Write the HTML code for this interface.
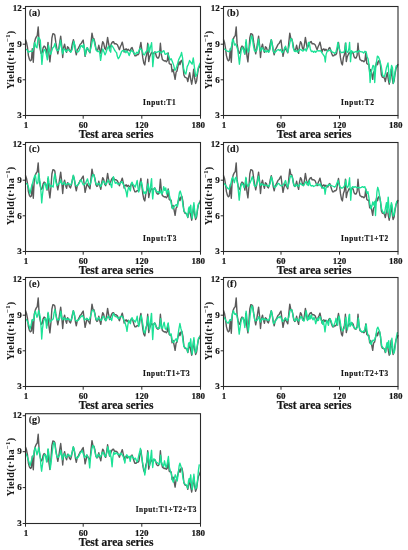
<!DOCTYPE html><html><head><meta charset="utf-8"><style>html,body{margin:0;padding:0;background:#fff;}svg{display:block;}text{font-family:'Liberation Serif', serif;font-weight:bold;fill:#161616;stroke:#161616;stroke-width:0.2px;}</style></head><body>
<svg width="408" height="550" viewBox="0 0 408 550">
<defs><filter id="bl" x="-5%" y="-5%" width="110%" height="110%"><feGaussianBlur stdDeviation="0.4"/></filter></defs>
<rect width="408" height="550" fill="#fff"/>
<g><polyline points="25.5,39.4 26.5,42.4 27.5,47.5 28.4,55.6 29.4,59.3 30.4,60.8 31.4,60.0 32.3,48.6 33.3,62.2 34.3,43.1 35.3,39.1 36.3,36.9 37.2,35.8 38.2,26.9 39.2,43.9 40.2,49.7 41.1,53.4 42.1,52.7 43.1,47.9 44.1,46.1 45.1,46.8 46.0,49.4 47.0,54.1 48.0,42.4 49.0,55.6 49.9,61.9 50.9,51.9 51.9,38.0 52.9,33.6 53.9,33.9 54.8,35.0 55.8,42.4 56.8,48.3 57.8,53.8 58.7,49.0 59.7,42.4 60.7,36.1 61.7,45.3 62.7,57.5 63.6,47.5 64.6,44.2 65.6,49.4 66.6,52.3 67.5,46.8 68.5,47.5 69.5,50.8 70.5,51.9 71.4,49.0 72.4,43.5 73.4,39.6 74.4,43.9 75.4,50.5 76.3,54.9 77.3,49.7 78.3,48.3 79.3,46.4 80.2,44.2 81.2,43.5 82.2,41.6 83.2,40.0 84.2,48.3 85.1,56.4 86.1,51.9 87.1,47.7 88.1,49.7 89.0,51.2 90.0,52.8 91.0,42.4 92.0,33.2 93.0,38.3 93.9,38.7 94.9,42.4 95.9,48.6 96.9,50.5 97.8,49.7 98.8,45.3 99.8,49.7 100.8,53.3 101.8,46.1 102.7,41.6 103.7,43.3 104.7,48.3 105.7,49.7 106.6,44.6 107.6,37.4 108.6,43.5 109.6,48.6 110.6,46.1 111.5,43.5 112.5,42.0 113.5,41.6 114.5,43.9 115.4,43.6 116.4,44.0 117.4,44.7 118.4,47.3 119.4,49.7 120.3,46.8 121.3,44.7 122.3,42.1 123.3,46.8 124.2,52.1 125.2,49.3 126.2,48.8 127.2,50.6 128.2,49.3 129.1,50.2 130.1,51.0 131.1,48.4 132.1,47.6 133.0,50.2 134.0,53.5 135.0,55.9 136.0,55.7 137.0,54.6 137.9,54.9 138.9,53.5 139.9,47.3 140.9,42.5 141.8,49.5 142.8,57.9 143.8,63.1 144.8,64.9 145.8,57.6 146.7,54.7 147.7,43.3 148.7,61.5 149.7,56.7 150.6,54.5 151.6,52.4 152.6,54.0 153.6,53.5 154.6,52.0 155.5,53.2 156.5,56.8 157.5,58.0 158.5,58.0 159.4,55.5 160.4,43.3 161.4,54.6 162.4,59.6 163.3,60.2 164.3,61.0 165.3,60.6 166.3,61.7 167.3,60.6 168.2,52.9 169.2,63.5 170.2,64.3 171.2,64.3 172.1,71.8 173.1,69.5 174.1,74.0 175.1,79.4 176.1,72.1 177.0,71.0 178.0,66.2 179.0,61.8 180.0,64.7 180.9,61.0 181.9,60.3 182.9,65.4 183.9,75.0 184.9,77.2 185.8,77.6 186.8,77.9 187.8,81.6 188.8,76.5 189.7,72.8 190.7,79.4 191.7,84.2 192.7,77.9 193.7,69.1 194.6,77.9 195.6,83.5 196.6,80.9 197.6,73.5 198.5,68.4 199.5,66.9 200.5,64.0" fill="none" stroke="#5a5a5a" stroke-width="1.40" stroke-opacity="1.00" stroke-linejoin="round" filter="url(#bl)"/><polyline points="25.9,48.9 27.2,50.0 28.3,52.2 29.4,51.6 30.5,51.1 31.6,51.6 32.6,51.1 33.7,47.8 34.8,42.4 35.9,46.7 37.0,47.8 38.1,37.5 39.2,38.0 40.3,40.2 41.4,56.5 41.9,64.4 43.0,53.3 44.1,49.5 45.2,50.0 46.3,54.4 47.4,59.8 48.5,45.1 49.6,51.1 50.7,54.4 51.7,51.1 52.8,47.8 53.9,46.7 55.0,43.5 56.1,48.9 57.2,50.5 58.3,50.5 59.4,47.8 60.5,40.2 61.6,47.8 62.7,53.8 63.8,48.9 64.9,49.5 65.9,51.6 67.0,50.5 68.1,49.5 69.4,50.5 70.8,52.2 72.2,49.5 73.8,41.3 74.9,45.6 76.0,50.5 77.0,52.2 78.5,51.6 79.6,49.5 80.6,46.2 81.7,45.6 82.8,47.3 83.6,44.5 84.5,48.9 85.3,55.5 86.4,48.9 87.5,47.8 88.6,50.5 89.9,52.2 91.2,46.7 92.7,39.1 93.7,39.6 94.8,44.5 96.3,50.5 97.6,51.6 98.9,51.1 99.8,53.3 100.6,60.4 101.7,53.3 102.8,48.9 104.1,52.2 105.0,54.9 106.1,52.2 107.2,48.9 108.5,46.2 109.6,50.5 110.7,52.2 111.2,45.1 112.3,46.2 113.4,47.8 114.5,50.0 115.6,51.6 116.6,52.7 117.2,56.0 118.3,58.7 119.4,57.1 120.5,54.4 121.6,51.6 122.6,50.5 123.7,51.1 124.8,50.5 125.9,52.7 127.0,51.1 128.1,52.7 129.2,55.5 130.3,52.2 131.4,50.0 132.5,51.6 133.6,52.2 134.7,54.4 135.7,53.8 136.8,52.2 137.9,53.3 139.0,50.5 140.1,48.4 141.2,49.5 142.3,51.1 143.4,54.4 144.5,54.9 145.6,52.2 146.7,51.6 147.8,49.5 148.5,44.5 149.4,52.2 150.5,46.7 151.4,44.0 151.6,42.7 152.1,51.1 152.8,66.6 154.1,53.1 155.3,51.9 156.5,52.5 157.7,51.9 159.0,51.3 160.2,51.9 161.4,53.1 162.6,51.3 163.9,50.7 165.1,54.4 166.3,53.8 167.5,53.1 168.8,56.2 170.0,59.9 171.2,58.7 172.4,61.7 173.7,65.4 174.9,70.3 176.1,68.5 177.3,64.8 178.6,59.9 179.8,57.4 180.7,55.6 181.6,52.5 182.6,58.0 183.5,67.8 184.7,72.7 185.9,74.0 187.2,66.6 188.4,64.2 189.6,60.5 190.8,62.3 192.1,64.2 193.3,58.0 194.5,67.8 195.7,76.4 197.0,74.0 198.2,67.8 199.4,64.8 200.3,62.9" fill="none" stroke="#1ae296" stroke-width="1.35" stroke-opacity="1.00" stroke-linejoin="round" filter="url(#bl)"/><rect x="25.5" y="6.5" width="175.0" height="109.0" fill="none" stroke="#2a2a2a" stroke-width="1.1"/><line x1="22.7" y1="115.5" x2="25.5" y2="115.5" stroke="#2a2a2a" stroke-width="1"/><text x="21.8" y="118.2" font-size="9" text-anchor="end">3</text><line x1="22.7" y1="79.8" x2="25.5" y2="79.8" stroke="#2a2a2a" stroke-width="1"/><text x="21.8" y="82.5" font-size="9" text-anchor="end">6</text><line x1="22.7" y1="44.2" x2="25.5" y2="44.2" stroke="#2a2a2a" stroke-width="1"/><text x="21.8" y="46.9" font-size="9" text-anchor="end">9</text><line x1="22.7" y1="8.5" x2="25.5" y2="8.5" stroke="#2a2a2a" stroke-width="1"/><text x="21.8" y="11.2" font-size="9" text-anchor="end">12</text><line x1="25.5" y1="115.5" x2="25.5" y2="118.7" stroke="#2a2a2a" stroke-width="1"/><text x="26.1" y="127.5" font-size="9" text-anchor="middle">1</text><line x1="83.2" y1="115.5" x2="83.2" y2="118.7" stroke="#2a2a2a" stroke-width="1"/><text x="83.3" y="127.5" font-size="9" text-anchor="middle">60</text><line x1="141.8" y1="115.5" x2="141.8" y2="118.7" stroke="#2a2a2a" stroke-width="1"/><text x="141.7" y="127.5" font-size="9" text-anchor="middle">120</text><line x1="200.5" y1="115.5" x2="200.5" y2="118.7" stroke="#2a2a2a" stroke-width="1"/><text x="198.3" y="127.5" font-size="9" text-anchor="middle">180</text><text x="116.0" y="137.5" font-size="11.5" text-anchor="middle">Test area series</text><text transform="translate(14.0,60.0) rotate(-90)" font-size="10.2" text-anchor="middle" textLength="58.5" style="stroke-width:0">Yield(t·ha<tspan font-size="6.5" dy="-4.2">−1</tspan><tspan dy="4.2">)</tspan></text><text x="29.0" y="15.5" font-size="10" letter-spacing="0.5"><tspan font-size="7.8" dy="-0.4">(</tspan><tspan dy="0.4">a</tspan><tspan font-size="7.8" dy="-0.4">)</tspan></text><text x="143.1" y="105.1" font-size="7.3" textLength="32.6">Input:T1</text></g>
<g><polyline points="223.5,39.4 224.5,42.4 225.4,47.5 226.4,55.6 227.4,59.3 228.4,60.8 229.3,60.0 230.3,48.6 231.3,62.2 232.3,43.1 233.2,39.1 234.2,36.9 235.2,35.8 236.2,26.9 237.1,43.9 238.1,49.7 239.1,53.4 240.1,52.7 241.0,47.9 242.0,46.1 243.0,46.8 244.0,49.4 244.9,54.1 245.9,42.4 246.9,55.6 247.9,61.9 248.8,51.9 249.8,38.0 250.8,33.6 251.8,33.9 252.7,35.0 253.7,42.4 254.7,48.3 255.7,53.8 256.6,49.0 257.6,42.4 258.6,36.1 259.6,45.3 260.5,57.5 261.5,47.5 262.5,44.2 263.5,49.4 264.4,52.3 265.4,46.8 266.4,47.5 267.4,50.8 268.3,51.9 269.3,49.0 270.3,43.5 271.3,39.6 272.2,43.9 273.2,50.5 274.2,54.9 275.2,49.7 276.1,48.3 277.1,46.4 278.1,44.2 279.1,43.5 280.0,41.6 281.0,40.0 282.0,48.3 283.0,56.4 283.9,51.9 284.9,47.7 285.9,49.7 286.9,51.2 287.8,52.8 288.8,42.4 289.8,33.2 290.8,38.3 291.7,38.7 292.7,42.4 293.7,48.6 294.7,50.5 295.6,49.7 296.6,45.3 297.6,49.7 298.6,53.3 299.5,46.1 300.5,41.6 301.5,43.3 302.5,48.3 303.4,49.7 304.4,44.6 305.4,37.4 306.4,43.5 307.3,48.6 308.3,46.1 309.3,43.5 310.3,42.0 311.2,41.6 312.2,43.9 313.2,43.6 314.2,44.0 315.1,44.7 316.1,47.3 317.1,49.7 318.1,46.8 319.0,44.7 320.0,42.1 321.0,46.8 322.0,52.1 322.9,49.3 323.9,48.8 324.9,50.6 325.9,49.3 326.8,50.2 327.8,51.0 328.8,48.4 329.8,47.6 330.7,50.2 331.7,53.5 332.7,55.9 333.7,55.7 334.6,54.6 335.6,54.9 336.6,53.5 337.6,47.3 338.5,42.5 339.5,49.5 340.5,57.9 341.5,63.1 342.4,64.9 343.4,57.6 344.4,54.7 345.4,43.3 346.3,61.5 347.3,56.7 348.3,54.5 349.3,52.4 350.2,54.0 351.2,53.5 352.2,52.0 353.2,53.2 354.1,56.8 355.1,58.0 356.1,58.0 357.1,55.5 358.0,43.3 359.0,54.6 360.0,59.6 361.0,60.2 361.9,61.0 362.9,60.6 363.9,61.7 364.9,60.6 365.8,52.9 366.8,63.5 367.8,64.3 368.8,64.3 369.7,71.8 370.7,69.5 371.7,74.0 372.7,79.4 373.6,72.1 374.6,71.0 375.6,66.2 376.6,61.8 377.5,64.7 378.5,61.0 379.5,60.3 380.5,65.4 381.4,75.0 382.4,77.2 383.4,77.6 384.4,77.9 385.3,81.6 386.3,76.5 387.3,72.8 388.3,79.4 389.2,84.2 390.2,77.9 391.2,69.1 392.2,77.9 393.1,83.5 394.1,80.9 395.1,73.5 396.1,68.4 397.0,66.9 398.0,64.0" fill="none" stroke="#5a5a5a" stroke-width="1.40" stroke-opacity="1.00" stroke-linejoin="round" filter="url(#bl)"/><polyline points="223.9,48.9 225.2,49.5 226.3,50.5 227.4,51.1 228.5,51.6 229.6,51.1 230.6,49.5 231.7,45.6 232.6,39.1 233.4,40.2 234.5,45.1 235.6,44.0 236.6,46.2 237.7,49.5 238.8,58.7 239.4,64.2 240.3,56.5 241.3,50.0 242.4,47.3 243.5,50.0 244.6,53.8 245.4,47.8 246.1,39.6 247.0,47.8 248.1,52.2 249.2,49.5 250.3,42.9 251.4,35.8 252.3,37.5 253.4,45.6 254.4,50.5 255.5,51.6 256.6,50.5 257.7,45.6 258.5,39.1 259.6,47.8 260.7,51.1 261.8,47.8 262.9,48.4 263.9,51.1 265.0,50.5 266.1,52.2 267.4,50.5 268.8,52.2 270.2,48.9 271.3,39.6 272.4,45.1 273.5,51.6 274.6,52.7 275.9,51.6 277.2,50.0 278.3,49.5 279.4,50.5 280.5,49.5 281.6,51.6 282.5,52.7 283.6,51.1 284.7,47.8 285.5,46.2 286.6,49.5 287.7,52.2 288.8,47.8 289.9,42.4 291.0,38.5 292.1,40.2 293.2,47.8 294.3,51.1 295.4,51.6 296.4,50.5 297.5,52.2 298.6,50.5 299.7,49.5 300.8,49.5 301.9,50.5 303.0,51.1 304.1,50.0 305.2,48.9 306.3,51.1 307.4,47.8 308.1,44.0 308.5,42.4 309.2,42.4 310.3,48.9 311.4,51.6 312.5,51.1 313.6,52.2 314.6,51.1 315.7,52.2 316.8,51.1 317.9,50.5 319.0,51.1 320.1,50.5 321.2,51.6 322.3,53.3 323.4,54.9 324.5,56.5 325.3,62.0 326.1,54.4 327.2,51.1 328.3,50.5 329.4,50.5 330.5,50.0 331.6,51.6 332.7,52.2 333.7,52.7 334.8,53.3 335.9,52.2 337.0,47.8 337.9,42.4 338.9,47.8 339.8,50.5 340.8,52.2 341.9,52.7 343.0,52.2 344.1,52.2 345.2,47.8 345.9,42.9 346.5,51.1 347.4,52.2 348.3,51.1 349.0,47.8 349.6,42.4 349.6,43.3 350.2,53.3 350.5,61.7 351.5,50.7 352.7,51.9 353.9,52.5 355.1,51.9 356.4,51.3 357.6,52.5 358.8,50.7 360.0,51.3 361.3,51.9 362.5,51.9 363.7,53.1 364.9,51.3 366.2,51.9 367.1,56.8 368.0,58.7 368.9,64.2 369.6,72.7 370.1,82.5 371.1,72.7 372.0,69.1 373.0,65.4 374.0,66.0 374.7,82.5 375.7,67.8 376.7,60.5 377.4,56.2 378.4,56.8 379.4,59.3 380.6,63.6 381.6,68.5 382.6,75.2 383.6,76.4 384.5,76.4 385.5,72.7 386.4,67.8 387.2,65.4 388.0,62.9 388.8,72.7 389.7,82.5 390.7,72.7 391.6,65.4 392.5,67.8 393.4,83.2 394.3,77.6 395.3,70.3 396.2,66.0 397.0,65.4" fill="none" stroke="#1ae296" stroke-width="1.35" stroke-opacity="1.00" stroke-linejoin="round" filter="url(#bl)"/><rect x="223.5" y="6.5" width="174.5" height="109.0" fill="none" stroke="#2a2a2a" stroke-width="1.1"/><line x1="220.7" y1="115.5" x2="223.5" y2="115.5" stroke="#2a2a2a" stroke-width="1"/><text x="219.8" y="118.2" font-size="9" text-anchor="end">3</text><line x1="220.7" y1="79.8" x2="223.5" y2="79.8" stroke="#2a2a2a" stroke-width="1"/><text x="219.8" y="82.5" font-size="9" text-anchor="end">6</text><line x1="220.7" y1="44.2" x2="223.5" y2="44.2" stroke="#2a2a2a" stroke-width="1"/><text x="219.8" y="46.9" font-size="9" text-anchor="end">9</text><line x1="220.7" y1="8.5" x2="223.5" y2="8.5" stroke="#2a2a2a" stroke-width="1"/><text x="219.8" y="11.2" font-size="9" text-anchor="end">12</text><line x1="223.5" y1="115.5" x2="223.5" y2="118.7" stroke="#2a2a2a" stroke-width="1"/><text x="224.1" y="127.5" font-size="9" text-anchor="middle">1</text><line x1="281.0" y1="115.5" x2="281.0" y2="118.7" stroke="#2a2a2a" stroke-width="1"/><text x="281.1" y="127.5" font-size="9" text-anchor="middle">60</text><line x1="339.5" y1="115.5" x2="339.5" y2="118.7" stroke="#2a2a2a" stroke-width="1"/><text x="339.4" y="127.5" font-size="9" text-anchor="middle">120</text><line x1="398.0" y1="115.5" x2="398.0" y2="118.7" stroke="#2a2a2a" stroke-width="1"/><text x="395.8" y="127.5" font-size="9" text-anchor="middle">180</text><text x="314.0" y="137.5" font-size="11.5" text-anchor="middle">Test area series</text><text transform="translate(212.0,60.0) rotate(-90)" font-size="10.2" text-anchor="middle" textLength="58.5" style="stroke-width:0">Yield(t·ha<tspan font-size="6.5" dy="-4.2">−1</tspan><tspan dy="4.2">)</tspan></text><text x="227.0" y="15.5" font-size="10" letter-spacing="0.5"><tspan font-size="7.8" dy="-0.4">(</tspan><tspan dy="0.4">b</tspan><tspan font-size="7.8" dy="-0.4">)</tspan></text><text x="341.1" y="105.1" font-size="7.3" textLength="32.7">Input:T2</text></g>
<g><polyline points="25.5,175.4 26.5,178.4 27.5,183.5 28.4,191.6 29.4,195.3 30.4,196.8 31.4,196.0 32.3,184.6 33.3,198.2 34.3,179.1 35.3,175.1 36.3,172.9 37.2,171.8 38.2,162.9 39.2,179.9 40.2,185.7 41.1,189.4 42.1,188.7 43.1,183.9 44.1,182.1 45.1,182.8 46.0,185.4 47.0,190.1 48.0,178.4 49.0,191.6 49.9,197.9 50.9,187.9 51.9,174.0 52.9,169.6 53.9,169.9 54.8,171.0 55.8,178.4 56.8,184.3 57.8,189.8 58.7,185.0 59.7,178.4 60.7,172.1 61.7,181.3 62.7,193.5 63.6,183.5 64.6,180.2 65.6,185.4 66.6,188.3 67.5,182.8 68.5,183.5 69.5,186.8 70.5,187.9 71.4,185.0 72.4,179.5 73.4,175.6 74.4,179.9 75.4,186.5 76.3,190.9 77.3,185.7 78.3,184.3 79.3,182.4 80.2,180.2 81.2,179.5 82.2,177.6 83.2,176.0 84.2,184.3 85.1,192.4 86.1,187.9 87.1,183.7 88.1,185.7 89.0,187.2 90.0,188.8 91.0,178.4 92.0,169.2 93.0,174.3 93.9,174.7 94.9,178.4 95.9,184.6 96.9,186.5 97.8,185.7 98.8,181.3 99.8,185.7 100.8,189.3 101.8,182.1 102.7,177.6 103.7,179.3 104.7,184.3 105.7,185.7 106.6,180.6 107.6,173.4 108.6,179.5 109.6,184.6 110.6,182.1 111.5,179.5 112.5,178.0 113.5,177.6 114.5,179.9 115.4,179.6 116.4,180.0 117.4,180.7 118.4,183.3 119.4,185.7 120.3,182.8 121.3,180.7 122.3,178.1 123.3,182.8 124.2,188.1 125.2,185.3 126.2,184.8 127.2,186.6 128.2,185.3 129.1,186.2 130.1,187.0 131.1,184.4 132.1,183.6 133.0,186.2 134.0,189.5 135.0,191.9 136.0,191.7 137.0,190.6 137.9,190.9 138.9,189.5 139.9,183.3 140.9,178.5 141.8,185.5 142.8,193.9 143.8,199.1 144.8,200.9 145.8,193.6 146.7,190.7 147.7,179.3 148.7,197.5 149.7,192.7 150.6,190.5 151.6,188.4 152.6,190.0 153.6,189.5 154.6,188.0 155.5,189.2 156.5,192.8 157.5,194.0 158.5,194.0 159.4,191.5 160.4,179.3 161.4,190.6 162.4,195.6 163.3,196.2 164.3,197.0 165.3,196.6 166.3,197.7 167.3,196.6 168.2,188.9 169.2,199.5 170.2,200.3 171.2,200.3 172.1,207.8 173.1,205.5 174.1,210.0 175.1,215.4 176.1,208.1 177.0,207.0 178.0,202.2 179.0,197.8 180.0,200.7 180.9,197.0 181.9,196.3 182.9,201.4 183.9,211.0 184.9,213.2 185.8,213.6 186.8,213.9 187.8,217.6 188.8,212.5 189.7,208.8 190.7,215.4 191.7,220.2 192.7,213.9 193.7,205.1 194.6,213.9 195.6,219.5 196.6,216.9 197.6,209.5 198.5,204.4 199.5,202.9 200.5,200.0" fill="none" stroke="#5a5a5a" stroke-width="1.40" stroke-opacity="1.00" stroke-linejoin="round" filter="url(#bl)"/><polyline points="25.9,183.3 27.0,183.8 28.1,186.0 29.1,189.8 29.9,193.6 30.7,190.4 31.6,186.5 32.4,183.8 33.5,179.5 34.6,176.2 35.4,175.1 36.2,181.1 37.0,183.8 37.9,182.7 38.6,173.5 39.5,178.4 40.3,183.8 41.2,194.7 41.7,202.9 42.5,194.7 43.6,186.0 44.7,183.3 45.7,183.8 46.6,189.3 47.3,188.2 48.1,176.7 49.0,182.7 50.1,187.1 51.2,185.5 52.3,186.0 53.2,187.1 54.0,178.4 54.9,174.0 55.8,181.6 56.9,185.5 58.0,184.4 58.8,183.8 59.9,182.7 60.8,180.0 61.7,183.8 62.6,184.4 63.4,183.3 64.3,182.2 65.4,184.9 66.5,184.4 67.6,183.8 68.5,183.3 69.4,184.4 70.8,184.9 72.2,181.6 73.3,175.1 74.4,179.5 75.5,184.9 76.6,186.0 77.9,184.9 79.0,183.3 80.1,181.1 81.2,180.0 82.3,182.7 83.4,184.9 84.5,184.4 85.6,183.3 86.7,180.5 87.5,178.9 88.4,182.7 89.5,185.5 90.8,182.7 91.9,177.3 93.0,174.5 94.1,175.6 95.2,181.1 96.3,184.4 97.4,184.9 98.4,183.3 99.5,183.8 100.6,186.5 101.7,184.9 102.8,181.1 103.9,181.6 105.0,183.8 106.1,184.4 107.2,182.2 108.3,180.0 109.4,182.2 110.5,183.8 111.0,185.5 111.7,187.6 112.5,180.5 113.4,176.7 114.2,180.5 115.3,183.3 116.4,182.2 117.5,183.8 118.6,184.4 119.7,183.3 120.8,182.7 121.9,181.6 123.0,183.8 124.1,186.0 125.2,188.7 126.3,192.5 127.0,196.9 127.8,190.4 128.7,187.1 129.5,188.7 130.4,190.9 131.3,183.3 132.1,182.2 133.0,184.4 134.1,185.5 135.2,187.1 136.3,183.8 137.2,180.5 137.9,187.1 138.7,192.0 139.6,189.3 140.4,183.8 141.3,181.6 142.2,185.5 143.1,190.4 143.9,193.6 144.8,192.0 145.7,193.6 146.6,190.4 147.4,187.1 148.1,183.8 148.9,189.3 149.6,192.5 150.5,186.5 151.4,179.5 151.6,178.7 152.1,190.4 152.7,198.9 153.7,189.1 154.7,187.9 155.9,190.4 157.1,192.2 158.4,191.6 159.6,193.4 160.8,190.4 161.8,194.0 162.8,192.2 163.7,186.7 164.7,190.4 165.7,187.9 166.7,194.0 167.7,190.4 168.6,190.4 169.6,196.5 170.6,200.2 171.6,205.1 172.6,208.7 173.5,207.5 174.5,206.3 175.5,205.1 176.5,204.5 177.5,206.3 178.5,198.9 179.4,192.8 180.2,191.0 181.1,194.0 182.1,198.9 183.1,206.3 184.1,211.2 185.1,212.4 186.0,213.0 187.0,214.9 187.8,217.3 188.5,208.7 189.2,206.9 190.0,212.4 190.7,205.1 191.4,213.6 192.2,218.5 193.2,208.7 193.9,202.6 194.6,210.0 195.6,217.9 196.6,214.9 197.6,207.5 198.5,203.8 199.5,202.6" fill="none" stroke="#1ae296" stroke-width="1.35" stroke-opacity="1.00" stroke-linejoin="round" filter="url(#bl)"/><rect x="25.5" y="142.5" width="175.0" height="109.0" fill="none" stroke="#2a2a2a" stroke-width="1.1"/><line x1="22.7" y1="251.5" x2="25.5" y2="251.5" stroke="#2a2a2a" stroke-width="1"/><text x="21.8" y="254.2" font-size="9" text-anchor="end">3</text><line x1="22.7" y1="215.8" x2="25.5" y2="215.8" stroke="#2a2a2a" stroke-width="1"/><text x="21.8" y="218.5" font-size="9" text-anchor="end">6</text><line x1="22.7" y1="180.2" x2="25.5" y2="180.2" stroke="#2a2a2a" stroke-width="1"/><text x="21.8" y="182.9" font-size="9" text-anchor="end">9</text><line x1="22.7" y1="144.5" x2="25.5" y2="144.5" stroke="#2a2a2a" stroke-width="1"/><text x="21.8" y="147.2" font-size="9" text-anchor="end">12</text><line x1="25.5" y1="251.5" x2="25.5" y2="254.7" stroke="#2a2a2a" stroke-width="1"/><text x="26.1" y="263.5" font-size="9" text-anchor="middle">1</text><line x1="83.2" y1="251.5" x2="83.2" y2="254.7" stroke="#2a2a2a" stroke-width="1"/><text x="83.3" y="263.5" font-size="9" text-anchor="middle">60</text><line x1="141.8" y1="251.5" x2="141.8" y2="254.7" stroke="#2a2a2a" stroke-width="1"/><text x="141.7" y="263.5" font-size="9" text-anchor="middle">120</text><line x1="200.5" y1="251.5" x2="200.5" y2="254.7" stroke="#2a2a2a" stroke-width="1"/><text x="198.3" y="263.5" font-size="9" text-anchor="middle">180</text><text x="116.0" y="273.5" font-size="11.5" text-anchor="middle">Test area series</text><text transform="translate(14.0,196.0) rotate(-90)" font-size="10.2" text-anchor="middle" textLength="58.5" style="stroke-width:0">Yield(t·ha<tspan font-size="6.5" dy="-4.2">−1</tspan><tspan dy="4.2">)</tspan></text><text x="29.0" y="151.5" font-size="10" letter-spacing="0.5"><tspan font-size="7.8" dy="-0.4">(</tspan><tspan dy="0.4">c</tspan><tspan font-size="7.8" dy="-0.4">)</tspan></text><text x="143.1" y="241.1" font-size="7.3" textLength="33.2">Input:T3</text></g>
<g><polyline points="223.5,175.4 224.5,178.4 225.4,183.5 226.4,191.6 227.4,195.3 228.4,196.8 229.3,196.0 230.3,184.6 231.3,198.2 232.3,179.1 233.2,175.1 234.2,172.9 235.2,171.8 236.2,162.9 237.1,179.9 238.1,185.7 239.1,189.4 240.1,188.7 241.0,183.9 242.0,182.1 243.0,182.8 244.0,185.4 244.9,190.1 245.9,178.4 246.9,191.6 247.9,197.9 248.8,187.9 249.8,174.0 250.8,169.6 251.8,169.9 252.7,171.0 253.7,178.4 254.7,184.3 255.7,189.8 256.6,185.0 257.6,178.4 258.6,172.1 259.6,181.3 260.5,193.5 261.5,183.5 262.5,180.2 263.5,185.4 264.4,188.3 265.4,182.8 266.4,183.5 267.4,186.8 268.3,187.9 269.3,185.0 270.3,179.5 271.3,175.6 272.2,179.9 273.2,186.5 274.2,190.9 275.2,185.7 276.1,184.3 277.1,182.4 278.1,180.2 279.1,179.5 280.0,177.6 281.0,176.0 282.0,184.3 283.0,192.4 283.9,187.9 284.9,183.7 285.9,185.7 286.9,187.2 287.8,188.8 288.8,178.4 289.8,169.2 290.8,174.3 291.7,174.7 292.7,178.4 293.7,184.6 294.7,186.5 295.6,185.7 296.6,181.3 297.6,185.7 298.6,189.3 299.5,182.1 300.5,177.6 301.5,179.3 302.5,184.3 303.4,185.7 304.4,180.6 305.4,173.4 306.4,179.5 307.3,184.6 308.3,182.1 309.3,179.5 310.3,178.0 311.2,177.6 312.2,179.9 313.2,179.6 314.2,180.0 315.1,180.7 316.1,183.3 317.1,185.7 318.1,182.8 319.0,180.7 320.0,178.1 321.0,182.8 322.0,188.1 322.9,185.3 323.9,184.8 324.9,186.6 325.9,185.3 326.8,186.2 327.8,187.0 328.8,184.4 329.8,183.6 330.7,186.2 331.7,189.5 332.7,191.9 333.7,191.7 334.6,190.6 335.6,190.9 336.6,189.5 337.6,183.3 338.5,178.5 339.5,185.5 340.5,193.9 341.5,199.1 342.4,200.9 343.4,193.6 344.4,190.7 345.4,179.3 346.3,197.5 347.3,192.7 348.3,190.5 349.3,188.4 350.2,190.0 351.2,189.5 352.2,188.0 353.2,189.2 354.1,192.8 355.1,194.0 356.1,194.0 357.1,191.5 358.0,179.3 359.0,190.6 360.0,195.6 361.0,196.2 361.9,197.0 362.9,196.6 363.9,197.7 364.9,196.6 365.8,188.9 366.8,199.5 367.8,200.3 368.8,200.3 369.7,207.8 370.7,205.5 371.7,210.0 372.7,215.4 373.6,208.1 374.6,207.0 375.6,202.2 376.6,197.8 377.5,200.7 378.5,197.0 379.5,196.3 380.5,201.4 381.4,211.0 382.4,213.2 383.4,213.6 384.4,213.9 385.3,217.6 386.3,212.5 387.3,208.8 388.3,215.4 389.2,220.2 390.2,213.9 391.2,205.1 392.2,213.9 393.1,219.5 394.1,216.9 395.1,209.5 396.1,204.4 397.0,202.9 398.0,200.0" fill="none" stroke="#5a5a5a" stroke-width="1.40" stroke-opacity="1.00" stroke-linejoin="round" filter="url(#bl)"/><polyline points="223.9,183.3 225.0,184.4 226.1,186.0 227.1,187.6 228.2,188.7 229.1,189.3 230.0,186.5 230.9,183.8 231.7,179.5 232.6,177.3 233.5,180.0 234.4,182.7 235.2,178.4 236.1,177.3 237.0,181.1 237.8,184.9 238.5,192.5 239.2,200.2 240.0,192.5 240.9,186.0 242.0,183.3 243.1,184.9 244.2,187.6 245.1,183.8 245.9,177.3 246.8,183.8 247.9,186.5 249.0,184.9 250.1,182.7 251.2,180.0 252.3,176.7 253.1,179.5 254.2,185.5 255.3,186.5 256.4,185.5 257.5,181.6 258.5,176.2 259.5,182.7 260.6,185.5 261.7,183.8 262.7,184.4 263.8,185.5 264.9,184.9 266.2,185.5 267.4,185.5 268.8,186.5 270.2,183.3 271.3,176.7 272.4,180.0 273.5,185.5 274.6,187.6 275.9,186.5 277.0,184.9 278.1,183.3 279.2,183.8 280.3,185.5 281.4,186.0 282.5,185.5 283.6,184.4 284.7,182.2 285.5,180.5 286.4,183.8 287.5,187.1 288.8,183.8 289.9,177.8 291.0,175.6 292.1,176.7 293.2,182.2 294.3,186.0 295.4,186.5 296.4,184.4 297.5,185.5 298.6,186.5 299.7,184.4 300.8,183.3 301.9,184.9 303.0,185.5 304.1,184.9 305.2,182.7 306.3,181.6 307.4,184.9 308.1,183.3 308.5,185.5 309.2,180.5 310.3,184.9 311.4,186.0 312.5,185.5 313.6,186.5 314.6,186.0 315.7,185.5 316.8,183.8 317.9,184.4 319.0,185.5 320.1,183.8 321.2,186.5 322.3,187.6 323.4,188.2 324.3,187.1 325.1,194.2 326.0,188.2 327.1,185.5 328.2,185.5 329.3,184.4 330.4,185.5 331.5,185.5 332.5,186.0 333.6,186.5 334.7,187.1 335.8,186.0 336.9,183.3 338.0,180.5 338.9,183.8 339.8,186.5 340.8,187.6 341.9,188.2 343.0,187.6 344.1,186.5 345.2,183.8 345.9,180.0 346.5,186.0 347.4,187.6 348.3,186.0 349.1,181.6 349.6,177.8 349.6,179.3 350.2,189.3 350.7,200.2 351.7,187.9 352.7,186.7 353.9,187.3 355.1,186.7 356.4,187.3 357.6,187.9 358.8,187.3 360.0,187.9 361.3,187.3 362.5,186.7 363.7,187.3 364.9,186.7 365.9,190.4 366.9,193.4 367.9,191.6 368.9,197.7 369.8,203.8 370.8,208.7 371.8,206.3 372.8,202.0 373.8,205.1 374.7,201.4 375.5,215.5 376.2,202.6 376.9,192.2 377.7,187.3 378.7,190.4 379.6,196.5 380.6,202.6 381.6,208.7 382.6,211.8 383.6,212.4 384.5,213.6 385.5,207.5 386.5,202.6 387.2,212.4 388.2,197.1 389.0,208.7 389.7,217.3 390.7,207.5 391.4,202.6 392.1,205.1 393.1,216.1 394.1,214.9 395.1,208.7 396.1,203.8 397.0,200.8" fill="none" stroke="#1ae296" stroke-width="1.35" stroke-opacity="1.00" stroke-linejoin="round" filter="url(#bl)"/><rect x="223.5" y="142.5" width="174.5" height="109.0" fill="none" stroke="#2a2a2a" stroke-width="1.1"/><line x1="220.7" y1="251.5" x2="223.5" y2="251.5" stroke="#2a2a2a" stroke-width="1"/><text x="219.8" y="254.2" font-size="9" text-anchor="end">3</text><line x1="220.7" y1="215.8" x2="223.5" y2="215.8" stroke="#2a2a2a" stroke-width="1"/><text x="219.8" y="218.5" font-size="9" text-anchor="end">6</text><line x1="220.7" y1="180.2" x2="223.5" y2="180.2" stroke="#2a2a2a" stroke-width="1"/><text x="219.8" y="182.9" font-size="9" text-anchor="end">9</text><line x1="220.7" y1="144.5" x2="223.5" y2="144.5" stroke="#2a2a2a" stroke-width="1"/><text x="219.8" y="147.2" font-size="9" text-anchor="end">12</text><line x1="223.5" y1="251.5" x2="223.5" y2="254.7" stroke="#2a2a2a" stroke-width="1"/><text x="224.1" y="263.5" font-size="9" text-anchor="middle">1</text><line x1="281.0" y1="251.5" x2="281.0" y2="254.7" stroke="#2a2a2a" stroke-width="1"/><text x="281.1" y="263.5" font-size="9" text-anchor="middle">60</text><line x1="339.5" y1="251.5" x2="339.5" y2="254.7" stroke="#2a2a2a" stroke-width="1"/><text x="339.4" y="263.5" font-size="9" text-anchor="middle">120</text><line x1="398.0" y1="251.5" x2="398.0" y2="254.7" stroke="#2a2a2a" stroke-width="1"/><text x="395.8" y="263.5" font-size="9" text-anchor="middle">180</text><text x="314.0" y="273.5" font-size="11.5" text-anchor="middle">Test area series</text><text transform="translate(212.0,196.0) rotate(-90)" font-size="10.2" text-anchor="middle" textLength="58.5" style="stroke-width:0">Yield(t·ha<tspan font-size="6.5" dy="-4.2">−1</tspan><tspan dy="4.2">)</tspan></text><text x="227.0" y="151.5" font-size="10" letter-spacing="0.5"><tspan font-size="7.8" dy="-0.4">(</tspan><tspan dy="0.4">d</tspan><tspan font-size="7.8" dy="-0.4">)</tspan></text><text x="341.1" y="241.1" font-size="7.3" textLength="47.0">Input:T1+T2</text></g>
<g><polyline points="25.5,310.4 26.5,313.4 27.5,318.5 28.4,326.6 29.4,330.3 30.4,331.8 31.4,331.0 32.3,319.6 33.3,333.2 34.3,314.1 35.3,310.1 36.3,307.9 37.2,306.8 38.2,297.9 39.2,314.9 40.2,320.7 41.1,324.4 42.1,323.7 43.1,318.9 44.1,317.1 45.1,317.8 46.0,320.4 47.0,325.1 48.0,313.4 49.0,326.6 49.9,332.9 50.9,322.9 51.9,309.0 52.9,304.6 53.9,304.9 54.8,306.0 55.8,313.4 56.8,319.3 57.8,324.8 58.7,320.0 59.7,313.4 60.7,307.1 61.7,316.3 62.7,328.5 63.6,318.5 64.6,315.2 65.6,320.4 66.6,323.3 67.5,317.8 68.5,318.5 69.5,321.8 70.5,322.9 71.4,320.0 72.4,314.5 73.4,310.6 74.4,314.9 75.4,321.5 76.3,325.9 77.3,320.7 78.3,319.3 79.3,317.4 80.2,315.2 81.2,314.5 82.2,312.6 83.2,311.0 84.2,319.3 85.1,327.4 86.1,322.9 87.1,318.7 88.1,320.7 89.0,322.2 90.0,323.8 91.0,313.4 92.0,304.2 93.0,309.3 93.9,309.7 94.9,313.4 95.9,319.6 96.9,321.5 97.8,320.7 98.8,316.3 99.8,320.7 100.8,324.3 101.8,317.1 102.7,312.6 103.7,314.3 104.7,319.3 105.7,320.7 106.6,315.6 107.6,308.4 108.6,314.5 109.6,319.6 110.6,317.1 111.5,314.5 112.5,313.0 113.5,312.6 114.5,314.9 115.4,314.6 116.4,315.0 117.4,315.7 118.4,318.3 119.4,320.7 120.3,317.8 121.3,315.7 122.3,313.1 123.3,317.8 124.2,323.1 125.2,320.3 126.2,319.8 127.2,321.6 128.2,320.3 129.1,321.2 130.1,322.0 131.1,319.4 132.1,318.6 133.0,321.2 134.0,324.5 135.0,326.9 136.0,326.7 137.0,325.6 137.9,325.9 138.9,324.5 139.9,318.3 140.9,313.5 141.8,320.5 142.8,328.9 143.8,334.1 144.8,335.9 145.8,328.6 146.7,325.7 147.7,314.3 148.7,332.5 149.7,327.7 150.6,325.5 151.6,323.4 152.6,325.0 153.6,324.5 154.6,323.0 155.5,324.2 156.5,327.8 157.5,329.0 158.5,329.0 159.4,326.5 160.4,314.3 161.4,325.6 162.4,330.6 163.3,331.2 164.3,332.0 165.3,331.6 166.3,332.7 167.3,331.6 168.2,323.9 169.2,334.5 170.2,335.3 171.2,335.3 172.1,342.8 173.1,340.5 174.1,345.0 175.1,350.4 176.1,343.1 177.0,342.0 178.0,337.2 179.0,332.8 180.0,335.7 180.9,332.0 181.9,331.3 182.9,336.4 183.9,346.0 184.9,348.2 185.8,348.6 186.8,348.9 187.8,352.6 188.8,347.5 189.7,343.8 190.7,350.4 191.7,355.2 192.7,348.9 193.7,340.1 194.6,348.9 195.6,354.5 196.6,351.9 197.6,344.5 198.5,339.4 199.5,337.9 200.5,335.0" fill="none" stroke="#5a5a5a" stroke-width="1.40" stroke-opacity="1.00" stroke-linejoin="round" filter="url(#bl)"/><polyline points="25.9,318.8 27.0,320.5 28.1,322.6 29.1,325.9 29.9,329.2 31.0,325.4 32.1,320.5 32.9,319.4 33.7,320.5 34.6,313.4 35.4,311.2 36.2,314.5 37.0,317.2 37.9,314.5 38.6,310.6 39.5,313.4 40.3,317.7 41.2,328.6 41.7,339.0 42.5,328.6 43.6,321.0 44.7,318.8 45.7,318.3 46.6,328.1 47.4,322.1 48.1,312.3 49.0,317.7 50.1,322.1 51.2,320.5 52.3,319.9 53.2,318.8 54.0,313.4 54.9,309.5 55.8,314.5 56.9,319.9 58.0,319.4 59.1,319.9 59.9,317.7 60.8,311.2 61.7,317.2 62.6,319.9 63.4,318.3 64.3,317.7 65.4,319.9 66.5,318.8 67.6,319.4 68.5,318.8 69.4,319.9 70.8,320.5 72.2,317.2 73.3,310.6 74.4,314.5 75.5,319.9 76.6,321.0 77.9,320.5 79.0,319.4 80.1,317.7 81.2,316.6 82.3,315.5 83.4,317.2 84.5,319.9 85.6,319.4 86.7,318.3 87.7,319.4 88.8,319.9 89.9,318.3 91.0,314.5 92.1,310.6 93.0,310.1 94.1,311.2 95.2,316.1 96.3,319.9 97.4,319.9 98.4,317.7 99.5,318.3 100.6,320.5 101.7,319.9 102.8,316.6 103.9,316.6 105.0,319.4 106.1,320.5 107.2,317.7 108.3,316.1 109.4,318.3 110.5,319.4 111.0,318.3 111.7,320.5 112.5,316.1 113.4,313.4 114.2,315.0 115.3,316.6 116.4,316.6 117.5,317.7 118.6,318.8 119.7,317.2 120.8,316.6 121.9,316.1 123.0,317.7 124.1,320.5 125.2,323.2 126.3,327.0 127.0,331.4 127.8,325.4 128.7,320.5 129.5,322.1 130.4,323.7 131.3,318.8 132.1,317.7 133.0,319.9 134.1,320.5 135.2,322.1 136.3,319.9 137.2,316.1 137.9,322.1 138.7,326.5 139.6,323.7 140.4,318.8 141.3,315.5 142.2,320.5 143.1,325.9 143.9,331.9 144.8,333.0 145.7,329.2 146.6,325.4 147.4,321.5 148.1,316.6 148.9,324.3 149.6,329.7 150.5,322.1 151.4,313.4 151.6,313.7 152.1,327.5 152.7,339.5 153.7,324.1 154.7,322.9 155.9,326.6 157.1,327.8 158.4,328.4 159.6,328.4 160.6,318.6 161.5,327.2 162.5,328.4 163.5,324.1 164.2,322.3 165.2,328.4 166.2,329.7 167.2,326.6 168.2,322.9 169.1,331.5 170.1,335.2 171.1,333.9 172.1,340.1 173.1,342.5 174.0,341.9 175.0,340.1 176.0,338.8 177.0,341.3 178.0,335.2 178.9,329.0 179.9,323.5 180.9,328.4 181.9,332.1 182.9,340.1 183.8,346.2 184.8,347.4 185.8,348.0 186.8,348.6 187.8,352.3 188.5,343.7 189.2,342.5 190.0,346.2 190.7,338.8 191.4,347.4 192.2,354.2 193.2,343.7 193.9,337.6 194.6,345.0 195.6,352.9 196.6,349.9 197.6,343.7 198.5,338.2 199.5,337.0" fill="none" stroke="#1ae296" stroke-width="1.35" stroke-opacity="1.00" stroke-linejoin="round" filter="url(#bl)"/><rect x="25.5" y="277.5" width="175.0" height="109.0" fill="none" stroke="#2a2a2a" stroke-width="1.1"/><line x1="22.7" y1="386.5" x2="25.5" y2="386.5" stroke="#2a2a2a" stroke-width="1"/><text x="21.8" y="389.2" font-size="9" text-anchor="end">3</text><line x1="22.7" y1="350.8" x2="25.5" y2="350.8" stroke="#2a2a2a" stroke-width="1"/><text x="21.8" y="353.5" font-size="9" text-anchor="end">6</text><line x1="22.7" y1="315.2" x2="25.5" y2="315.2" stroke="#2a2a2a" stroke-width="1"/><text x="21.8" y="317.9" font-size="9" text-anchor="end">9</text><line x1="22.7" y1="279.5" x2="25.5" y2="279.5" stroke="#2a2a2a" stroke-width="1"/><text x="21.8" y="282.2" font-size="9" text-anchor="end">12</text><line x1="25.5" y1="386.5" x2="25.5" y2="389.7" stroke="#2a2a2a" stroke-width="1"/><text x="26.1" y="398.5" font-size="9" text-anchor="middle">1</text><line x1="83.2" y1="386.5" x2="83.2" y2="389.7" stroke="#2a2a2a" stroke-width="1"/><text x="83.3" y="398.5" font-size="9" text-anchor="middle">60</text><line x1="141.8" y1="386.5" x2="141.8" y2="389.7" stroke="#2a2a2a" stroke-width="1"/><text x="141.7" y="398.5" font-size="9" text-anchor="middle">120</text><line x1="200.5" y1="386.5" x2="200.5" y2="389.7" stroke="#2a2a2a" stroke-width="1"/><text x="198.3" y="398.5" font-size="9" text-anchor="middle">180</text><text x="116.0" y="408.5" font-size="11.5" text-anchor="middle">Test area series</text><text transform="translate(14.0,331.0) rotate(-90)" font-size="10.2" text-anchor="middle" textLength="58.5" style="stroke-width:0">Yield(t·ha<tspan font-size="6.5" dy="-4.2">−1</tspan><tspan dy="4.2">)</tspan></text><text x="29.0" y="286.5" font-size="10" letter-spacing="0.5"><tspan font-size="7.8" dy="-0.4">(</tspan><tspan dy="0.4">e</tspan><tspan font-size="7.8" dy="-0.4">)</tspan></text><text x="143.1" y="376.1" font-size="7.3" textLength="46.5">Input:T1+T3</text></g>
<g><polyline points="223.5,310.4 224.5,313.4 225.4,318.5 226.4,326.6 227.4,330.3 228.4,331.8 229.3,331.0 230.3,319.6 231.3,333.2 232.3,314.1 233.2,310.1 234.2,307.9 235.2,306.8 236.2,297.9 237.1,314.9 238.1,320.7 239.1,324.4 240.1,323.7 241.0,318.9 242.0,317.1 243.0,317.8 244.0,320.4 244.9,325.1 245.9,313.4 246.9,326.6 247.9,332.9 248.8,322.9 249.8,309.0 250.8,304.6 251.8,304.9 252.7,306.0 253.7,313.4 254.7,319.3 255.7,324.8 256.6,320.0 257.6,313.4 258.6,307.1 259.6,316.3 260.5,328.5 261.5,318.5 262.5,315.2 263.5,320.4 264.4,323.3 265.4,317.8 266.4,318.5 267.4,321.8 268.3,322.9 269.3,320.0 270.3,314.5 271.3,310.6 272.2,314.9 273.2,321.5 274.2,325.9 275.2,320.7 276.1,319.3 277.1,317.4 278.1,315.2 279.1,314.5 280.0,312.6 281.0,311.0 282.0,319.3 283.0,327.4 283.9,322.9 284.9,318.7 285.9,320.7 286.9,322.2 287.8,323.8 288.8,313.4 289.8,304.2 290.8,309.3 291.7,309.7 292.7,313.4 293.7,319.6 294.7,321.5 295.6,320.7 296.6,316.3 297.6,320.7 298.6,324.3 299.5,317.1 300.5,312.6 301.5,314.3 302.5,319.3 303.4,320.7 304.4,315.6 305.4,308.4 306.4,314.5 307.3,319.6 308.3,317.1 309.3,314.5 310.3,313.0 311.2,312.6 312.2,314.9 313.2,314.6 314.2,315.0 315.1,315.7 316.1,318.3 317.1,320.7 318.1,317.8 319.0,315.7 320.0,313.1 321.0,317.8 322.0,323.1 322.9,320.3 323.9,319.8 324.9,321.6 325.9,320.3 326.8,321.2 327.8,322.0 328.8,319.4 329.8,318.6 330.7,321.2 331.7,324.5 332.7,326.9 333.7,326.7 334.6,325.6 335.6,325.9 336.6,324.5 337.6,318.3 338.5,313.5 339.5,320.5 340.5,328.9 341.5,334.1 342.4,335.9 343.4,328.6 344.4,325.7 345.4,314.3 346.3,332.5 347.3,327.7 348.3,325.5 349.3,323.4 350.2,325.0 351.2,324.5 352.2,323.0 353.2,324.2 354.1,327.8 355.1,329.0 356.1,329.0 357.1,326.5 358.0,314.3 359.0,325.6 360.0,330.6 361.0,331.2 361.9,332.0 362.9,331.6 363.9,332.7 364.9,331.6 365.8,323.9 366.8,334.5 367.8,335.3 368.8,335.3 369.7,342.8 370.7,340.5 371.7,345.0 372.7,350.4 373.6,343.1 374.6,342.0 375.6,337.2 376.6,332.8 377.5,335.7 378.5,332.0 379.5,331.3 380.5,336.4 381.4,346.0 382.4,348.2 383.4,348.6 384.4,348.9 385.3,352.6 386.3,347.5 387.3,343.8 388.3,350.4 389.2,355.2 390.2,348.9 391.2,340.1 392.2,348.9 393.1,354.5 394.1,351.9 395.1,344.5 396.1,339.4 397.0,337.9 398.0,335.0" fill="none" stroke="#5a5a5a" stroke-width="1.40" stroke-opacity="1.00" stroke-linejoin="round" filter="url(#bl)"/><polyline points="223.9,317.2 225.0,318.8 226.1,321.0 227.1,322.6 228.2,323.2 229.1,321.5 230.0,319.9 230.9,320.5 231.7,318.3 232.6,313.4 233.5,310.6 234.4,313.9 235.2,314.5 236.1,313.4 237.0,316.1 237.8,321.0 238.5,327.5 239.2,334.1 240.0,328.6 240.9,322.1 242.0,318.3 243.1,317.7 244.2,323.2 244.8,327.5 245.5,318.8 246.1,311.2 246.8,316.6 247.7,325.4 248.3,331.4 249.2,324.3 250.1,315.5 251.0,309.0 251.8,305.7 252.7,307.9 253.6,313.4 254.7,319.9 255.8,321.0 256.8,320.5 257.9,318.8 258.8,316.6 259.7,319.9 260.6,322.1 261.4,319.4 262.3,318.3 263.4,319.9 264.5,318.8 265.6,319.4 266.5,319.9 267.4,319.9 268.8,320.5 270.2,316.6 271.3,310.6 272.4,315.5 273.5,323.7 274.6,322.6 275.9,320.5 277.0,318.8 278.1,317.2 279.2,317.7 280.3,316.1 281.4,318.8 282.5,321.5 283.6,320.5 284.7,318.8 285.5,317.7 286.4,319.4 287.5,320.5 288.8,317.2 289.9,311.2 291.0,309.5 292.1,310.6 293.2,316.6 294.3,320.5 295.4,321.0 296.4,318.3 297.5,319.4 298.6,321.0 299.7,319.4 300.8,316.6 301.9,317.2 303.0,320.5 304.1,321.0 305.2,316.1 306.1,310.6 306.9,314.5 307.5,320.5 307.8,319.9 308.3,317.2 308.7,319.4 309.0,319.4 309.7,315.5 310.5,318.8 311.4,315.0 312.2,318.3 313.1,319.9 314.0,317.2 314.9,319.9 315.7,323.7 316.6,320.5 317.5,318.3 318.4,320.5 319.2,317.7 320.1,316.6 321.0,319.4 321.8,321.5 322.7,324.3 323.4,321.0 324.3,326.5 325.0,331.9 325.8,325.4 326.7,320.5 327.5,322.1 328.4,325.4 329.3,319.9 330.1,318.8 331.0,320.5 332.1,324.3 333.2,326.5 334.3,324.3 335.2,322.1 336.0,318.3 336.7,322.1 337.6,325.4 338.4,317.7 339.1,316.1 340.0,320.5 340.8,325.4 341.7,329.7 342.6,330.8 343.5,329.7 344.3,328.1 345.2,321.0 345.9,317.2 346.5,325.4 347.4,329.7 348.3,322.1 349.1,315.0 349.6,314.3 350.0,326.5 350.5,325.4 351.5,322.3 352.4,324.8 353.4,326.6 354.4,327.8 355.4,328.4 356.4,329.0 357.3,327.2 358.3,318.0 359.3,327.2 360.3,330.3 361.3,331.5 362.5,332.1 363.5,330.9 364.4,331.5 365.4,326.6 366.2,324.1 367.1,331.5 368.1,335.8 369.1,337.6 370.1,342.5 371.1,344.4 372.0,341.9 373.0,340.1 374.0,340.7 375.0,338.8 376.0,335.2 376.9,329.0 377.9,327.2 378.9,329.7 379.9,332.7 380.9,340.1 381.8,346.2 382.8,347.4 383.8,348.6 384.8,349.3 385.8,352.3 386.5,345.0 387.2,342.5 388.0,347.4 388.7,340.7 389.4,348.6 390.2,354.2 391.2,345.0 391.9,338.2 392.6,346.2 393.6,353.5 394.6,351.1 395.6,343.7 396.5,336.4 397.5,332.1" fill="none" stroke="#1ae296" stroke-width="1.35" stroke-opacity="1.00" stroke-linejoin="round" filter="url(#bl)"/><rect x="223.5" y="277.5" width="174.5" height="109.0" fill="none" stroke="#2a2a2a" stroke-width="1.1"/><line x1="220.7" y1="386.5" x2="223.5" y2="386.5" stroke="#2a2a2a" stroke-width="1"/><text x="219.8" y="389.2" font-size="9" text-anchor="end">3</text><line x1="220.7" y1="350.8" x2="223.5" y2="350.8" stroke="#2a2a2a" stroke-width="1"/><text x="219.8" y="353.5" font-size="9" text-anchor="end">6</text><line x1="220.7" y1="315.2" x2="223.5" y2="315.2" stroke="#2a2a2a" stroke-width="1"/><text x="219.8" y="317.9" font-size="9" text-anchor="end">9</text><line x1="220.7" y1="279.5" x2="223.5" y2="279.5" stroke="#2a2a2a" stroke-width="1"/><text x="219.8" y="282.2" font-size="9" text-anchor="end">12</text><line x1="223.5" y1="386.5" x2="223.5" y2="389.7" stroke="#2a2a2a" stroke-width="1"/><text x="224.1" y="398.5" font-size="9" text-anchor="middle">1</text><line x1="281.0" y1="386.5" x2="281.0" y2="389.7" stroke="#2a2a2a" stroke-width="1"/><text x="281.1" y="398.5" font-size="9" text-anchor="middle">60</text><line x1="339.5" y1="386.5" x2="339.5" y2="389.7" stroke="#2a2a2a" stroke-width="1"/><text x="339.4" y="398.5" font-size="9" text-anchor="middle">120</text><line x1="398.0" y1="386.5" x2="398.0" y2="389.7" stroke="#2a2a2a" stroke-width="1"/><text x="395.8" y="398.5" font-size="9" text-anchor="middle">180</text><text x="314.0" y="408.5" font-size="11.5" text-anchor="middle">Test area series</text><text transform="translate(212.0,331.0) rotate(-90)" font-size="10.2" text-anchor="middle" textLength="58.5" style="stroke-width:0">Yield(t·ha<tspan font-size="6.5" dy="-4.2">−1</tspan><tspan dy="4.2">)</tspan></text><text x="227.0" y="286.5" font-size="10" letter-spacing="0.5"><tspan font-size="7.8" dy="-0.4">(</tspan><tspan dy="0.4">f</tspan><tspan font-size="7.8" dy="-0.4">)</tspan></text><text x="341.1" y="376.1" font-size="7.3" textLength="47.0">Input:T2+T3</text></g>
<g><polyline points="25.5,446.9 26.5,449.8 27.5,455.0 28.4,463.2 29.4,466.9 30.4,468.4 31.4,467.6 32.3,456.1 33.3,469.8 34.3,450.6 35.3,446.5 36.3,444.3 37.2,443.2 38.2,434.3 39.2,451.3 40.2,457.3 41.1,461.0 42.1,460.2 43.1,455.4 44.1,453.5 45.1,454.3 46.0,456.9 47.0,461.7 48.0,449.8 49.0,463.2 49.9,469.5 50.9,459.5 51.9,445.4 52.9,441.0 53.9,441.3 54.8,442.4 55.8,449.8 56.8,455.8 57.8,461.3 58.7,456.5 59.7,449.8 60.7,443.5 61.7,452.8 62.7,465.0 63.6,455.0 64.6,451.7 65.6,456.9 66.6,459.8 67.5,454.3 68.5,455.0 69.5,458.4 70.5,459.5 71.4,456.5 72.4,451.0 73.4,447.0 74.4,451.3 75.4,458.0 76.3,462.4 77.3,457.3 78.3,455.8 79.3,453.9 80.2,451.7 81.2,451.0 82.2,449.1 83.2,447.5 84.2,455.8 85.1,463.9 86.1,459.5 87.1,455.2 88.1,457.3 89.0,458.7 90.0,460.4 91.0,449.8 92.0,440.6 93.0,445.8 93.9,446.1 94.9,449.8 95.9,456.1 96.9,458.0 97.8,457.3 98.8,452.8 99.8,457.3 100.8,460.8 101.8,453.5 102.7,449.1 103.7,450.7 104.7,455.8 105.7,457.3 106.6,452.1 107.6,444.8 108.6,451.0 109.6,456.1 110.6,453.5 111.5,451.0 112.5,449.5 113.5,449.1 114.5,451.3 115.4,451.1 116.4,451.4 117.4,452.2 118.4,454.8 119.4,457.2 120.3,454.3 121.3,452.2 122.3,449.6 123.3,454.3 124.2,459.6 125.2,456.8 126.2,456.3 127.2,458.1 128.2,456.8 129.1,457.7 130.1,458.5 131.1,455.9 132.1,455.1 133.0,457.7 134.0,461.1 135.0,463.4 136.0,463.3 137.0,462.2 137.9,462.4 138.9,461.1 139.9,454.8 140.9,450.0 141.8,457.0 142.8,465.5 143.8,470.7 144.8,472.6 145.8,465.2 146.7,462.3 147.7,450.8 148.7,469.1 149.7,464.3 150.6,462.1 151.6,459.9 152.6,461.5 153.6,461.0 154.6,459.5 155.5,460.7 156.5,464.4 157.5,465.6 158.5,465.6 159.4,463.1 160.4,450.8 161.4,462.2 162.4,467.2 163.3,467.8 164.3,468.6 165.3,468.2 166.3,469.3 167.3,468.2 168.2,460.4 169.2,471.1 170.2,471.9 171.2,471.9 172.1,479.5 173.1,477.2 174.1,481.7 175.1,487.1 176.1,479.8 177.0,478.7 178.0,473.8 179.0,469.4 180.0,472.3 180.9,468.6 181.9,467.9 182.9,473.0 183.9,482.7 184.9,484.9 185.8,485.3 186.8,485.6 187.8,489.4 188.8,484.2 189.7,480.5 190.7,487.1 191.7,492.0 192.7,485.6 193.7,476.8 194.6,485.6 195.6,491.3 196.6,488.6 197.6,481.2 198.5,476.1 199.5,474.5 200.5,471.6" fill="none" stroke="#5a5a5a" stroke-width="1.40" stroke-opacity="1.00" stroke-linejoin="round" filter="url(#bl)"/><polyline points="25.9,453.2 27.0,455.9 28.1,459.2 29.1,462.5 30.0,465.7 30.9,462.5 31.8,459.2 32.6,456.5 33.5,455.4 34.4,450.5 35.3,447.7 36.1,451.0 37.0,454.8 37.9,451.5 38.6,447.7 39.5,451.5 40.3,457.0 40.9,465.7 41.6,471.2 42.5,464.6 43.6,457.0 44.7,454.3 45.7,455.9 46.6,461.9 47.4,457.0 48.1,448.8 49.0,454.8 49.9,463.5 50.3,469.0 51.2,461.4 52.3,451.5 53.2,445.0 54.0,442.3 54.9,444.5 55.8,451.5 56.9,456.5 58.0,457.5 59.1,455.9 59.9,454.8 60.8,450.5 61.7,455.4 62.6,459.7 63.4,455.4 64.3,453.7 65.4,456.5 66.5,457.5 67.6,455.4 68.5,454.3 69.4,455.9 70.8,456.5 72.2,452.6 73.3,446.6 74.4,450.5 75.5,456.5 76.6,458.6 77.9,457.5 79.0,455.9 80.1,453.2 81.2,452.1 82.3,450.5 83.4,454.3 84.5,457.5 85.6,456.5 86.7,454.8 87.7,456.5 88.8,459.2 89.7,467.9 90.6,457.0 91.7,449.4 92.8,445.5 93.9,446.6 95.0,452.1 96.0,456.5 97.1,457.5 98.2,454.3 99.3,455.4 100.4,457.0 101.5,454.8 102.6,452.1 103.7,453.2 104.8,456.5 105.9,455.9 107.0,452.1 107.8,446.6 108.7,450.5 109.6,455.9 110.3,450.5 110.7,455.4 111.2,458.1 112.1,466.8 112.9,457.0 113.8,452.1 114.7,454.3 115.6,453.2 116.4,452.6 117.3,453.7 118.2,454.8 119.0,454.3 119.9,454.8 120.8,453.2 121.7,454.3 122.5,455.4 123.4,457.0 124.3,460.3 124.9,463.0 125.8,456.5 126.7,454.8 127.6,455.9 128.4,457.5 129.3,456.5 130.2,461.4 131.1,456.5 131.9,455.9 132.8,457.5 133.7,458.1 134.5,459.2 135.4,458.1 136.3,460.3 137.2,461.9 138.0,459.2 138.9,454.8 139.8,451.5 140.4,448.3 141.3,454.8 142.2,460.3 143.1,465.7 143.9,469.0 144.8,475.0 145.7,469.0 146.6,463.5 147.4,457.0 148.1,452.1 148.9,460.3 149.6,465.7 150.5,459.2 151.4,451.0 151.6,450.3 152.1,460.3 152.7,467.5 153.7,458.9 154.7,459.5 155.9,462.0 157.1,462.6 158.4,463.8 159.6,464.4 160.6,455.2 161.5,462.6 162.5,465.0 163.5,466.3 164.5,460.8 165.5,465.7 166.4,467.5 167.4,462.6 168.4,456.5 169.4,467.5 170.4,471.2 171.3,473.6 172.3,479.7 173.3,482.2 174.3,478.5 175.3,474.8 176.2,477.3 177.2,481.0 178.2,473.6 179.2,465.7 179.9,463.2 180.9,466.3 181.9,469.9 182.9,477.3 183.8,482.2 184.8,484.0 185.8,484.6 186.8,485.3 187.8,488.3 188.5,481.0 189.2,478.5 190.0,482.2 190.7,474.8 191.4,483.4 192.2,489.5 193.2,481.0 193.9,474.2 194.6,482.2 195.6,488.9 196.6,487.1 197.6,479.7 198.5,469.9 199.3,464.4" fill="none" stroke="#1ae296" stroke-width="1.35" stroke-opacity="1.00" stroke-linejoin="round" filter="url(#bl)"/><rect x="25.5" y="413.7" width="175.0" height="109.8" fill="none" stroke="#2a2a2a" stroke-width="1.1"/><line x1="22.7" y1="523.5" x2="25.5" y2="523.5" stroke="#2a2a2a" stroke-width="1"/><text x="21.8" y="526.2" font-size="9" text-anchor="end">3</text><line x1="22.7" y1="487.6" x2="25.5" y2="487.6" stroke="#2a2a2a" stroke-width="1"/><text x="21.8" y="490.3" font-size="9" text-anchor="end">6</text><line x1="22.7" y1="451.7" x2="25.5" y2="451.7" stroke="#2a2a2a" stroke-width="1"/><text x="21.8" y="454.4" font-size="9" text-anchor="end">9</text><line x1="22.7" y1="415.7" x2="25.5" y2="415.7" stroke="#2a2a2a" stroke-width="1"/><text x="21.8" y="418.4" font-size="9" text-anchor="end">12</text><line x1="25.5" y1="523.5" x2="25.5" y2="526.7" stroke="#2a2a2a" stroke-width="1"/><text x="26.1" y="535.5" font-size="9" text-anchor="middle">1</text><line x1="83.2" y1="523.5" x2="83.2" y2="526.7" stroke="#2a2a2a" stroke-width="1"/><text x="83.3" y="535.5" font-size="9" text-anchor="middle">60</text><line x1="141.8" y1="523.5" x2="141.8" y2="526.7" stroke="#2a2a2a" stroke-width="1"/><text x="141.7" y="535.5" font-size="9" text-anchor="middle">120</text><line x1="200.5" y1="523.5" x2="200.5" y2="526.7" stroke="#2a2a2a" stroke-width="1"/><text x="198.3" y="535.5" font-size="9" text-anchor="middle">180</text><text x="116.0" y="545.5" font-size="11.5" text-anchor="middle">Test area series</text><text transform="translate(14.0,467.2) rotate(-90)" font-size="10.2" text-anchor="middle" textLength="58.5" style="stroke-width:0">Yield(t·ha<tspan font-size="6.5" dy="-4.2">−1</tspan><tspan dy="4.2">)</tspan></text><text x="29.0" y="422.7" font-size="10" letter-spacing="0.5"><tspan font-size="7.8" dy="-0.4">(</tspan><tspan dy="0.4">g</tspan><tspan font-size="7.8" dy="-0.4">)</tspan></text><text x="135.7" y="512.3" font-size="7.3" textLength="60.8">Input:T1+T2+T3</text></g>
</svg></body></html>
